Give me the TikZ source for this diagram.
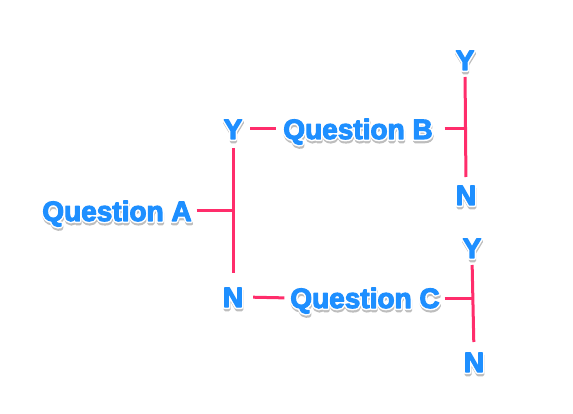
\documentclass[tikz,border=0pt]{standalone}
\usepackage{fontspec}
\setmainfont{Liberation Sans}
\definecolor{qblue}{HTML}{1E8FFF}
\definecolor{pinkc}{HTML}{FF2D6B}
\newcommand\strk[1]{\special{pdf:literal direct #1 w 1 j 2 Tr}}
\newcommand\unstrk{\special{pdf:literal direct 0 Tr}}
\newcommand\otxt[1]{\leavevmode
  \rlap{\raisebox{-2.6pt}{\kern0.5pt\color{black!26}\strk{3.4}#1\unstrk}}%
  \rlap{\color{white}\strk{4.2}#1\unstrk}%
  {\color{qblue}\strk{1.1}#1\unstrk}}
\tikzset{
  lbl/.style={inner sep=0pt, outer sep=0pt, text height=20pt, text depth=0pt,
    font=\fontsize{28pt}{30pt}\selectfont\bfseries},
  lnk/.style={draw=pinkc, line width=3pt}
}
\begin{document}
\begin{tikzpicture}[x=1pt,y=-1pt]
\useasboundingbox (0,0) rectangle (573,414);
% labels
\node[lbl] (qa) at (117,211) {\otxt{Question A}};
\node[lbl] (ya) at (233,129) {\otxt{Y}};
\node[lbl] (na) at (233,297) {\otxt{N}};
\node[lbl] (qb) at (358,129) {\otxt{Question B}};
\node[lbl] (yb) at (465,60) {\otxt{Y}};
\node[lbl] (nb) at (466,195) {\otxt{N}};
\node[lbl] (qc) at (365,298) {\otxt{Question C}};
\node[lbl] (yc) at (472,248) {\otxt{Y}};
\node[lbl] (nc) at (474,362) {\otxt{N}};
% junctions
\coordinate (ja) at (233,211);
\coordinate (jb) at (466,129);
\coordinate (jc) at (472,298);
% connectors
\draw[lnk, shorten <=5pt] (qa.east) -- (ja);
\draw[lnk, shorten <=9pt, shorten >=14pt] (ya.south) -- (na.north);
\draw[lnk, shorten <=8pt, shorten >=7pt] (ya.east) -- (qb.west);
\draw[lnk, shorten <=12pt] (qb.east) -- (jb);
\draw[lnk, shorten <=7pt, shorten >=8pt] (yb.south) -- (nb.north);
\draw[lnk, shorten <=10pt, shorten >=6pt] (na.east) -- (qc.west);
\draw[lnk, shorten <=5pt] (qc.east) -- (jc);
\draw[lnk, shorten <=7pt, shorten >=10pt] (yc.south) -- (nc.north);
\end{tikzpicture}
\end{document}
